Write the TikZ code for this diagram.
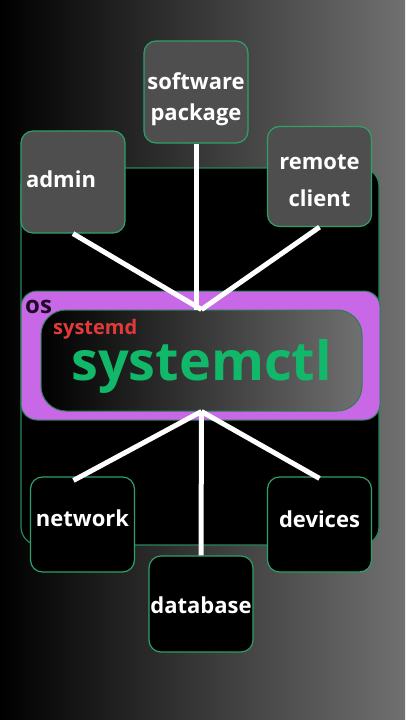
\documentclass[tikz,border=0pt]{standalone}
\usepackage{fontspec}
\setmainfont{Open Sans}
\usepackage{tikz}
\usepackage{xcolor}
\definecolor{edgegreen}{RGB}{46,160,106}
\definecolor{ctlgreen}{RGB}{18,184,106}
\definecolor{sysred}{RGB}{226,58,58}
\definecolor{ospurple}{RGB}{200,104,230}
\definecolor{osink}{RGB}{30,10,40}
\definecolor{boxgrey}{RGB}{78,78,78}
\definecolor{bggrey}{RGB}{112,112,112}
\tikzset{
    leaf-box/.style = {draw=edgegreen, line width=1.2pt, rectangle, rounded corners=12pt, minimum width=104pt, minimum height=100pt, text=white, font=\fontsize{22}{31}\selectfont\bfseries, align=center, inner sep=0pt, text depth=0pt},
    top-box/.style = {leaf-box, fill=boxgrey},
    bottom-box/.style = {leaf-box, fill=black, minimum height=96pt},
    spoke/.style = {white, line width=5pt},
}

\begin{document}
\begin{tikzpicture}[x=1pt, y=-1pt]
\useasboundingbox (0,0) rectangle (405,720);
\shade[left color=black, right color=bggrey] (0,0) rectangle (405,720);
\node [draw=edgegreen!85!black, fill=black, line width=1.2pt, rounded corners=18pt, minimum width=358pt, minimum height=377pt] (sys) at (200,356.5) {};
\node [draw=edgegreen!80!black, fill=ospurple, line width=1pt, rounded corners=16pt, minimum width=359pt, minimum height=129pt] (os) at (200.5,355.5) {};
\node [text=osink, font=\fontsize{24}{24}\selectfont\bfseries, anchor=base west, inner sep=0pt] (oslabel) at (25,313) {os};
\node [draw=edgegreen!80!black, left color=black, right color=bggrey, line width=1pt, rounded corners=25pt, minimum width=321pt, minimum height=101pt, text=ctlgreen, font=\fontsize{54}{54}\selectfont\bfseries, text height=39pt, text depth=0pt] (ctl) at (201.5,360.5) {systemctl};
\node [text=sysred, font=\fontsize{20}{20}\selectfont\bfseries, anchor=base west, inner sep=0pt] (systemd) at (53,334) {systemd};
\node [top-box, minimum height=102pt, text height=56pt] (software) at (196,92) {software\\package};
\node [top-box, minimum height=102pt, text width=94pt, align=left, text height=10pt] (admin) at (73,182) {admin};
\node [top-box, font=\fontsize{22}{37}\selectfont\bfseries, text height=59pt] (remote) at (319.5,176.5) {remote\\client};
\node [bottom-box, minimum height=95pt, text height=3pt] (network) at (82.5,524.5) {network};
\node [bottom-box, minimum height=95pt, text height=5pt] (devices) at (319.5,524.5) {devices};
\node [bottom-box, text height=18pt] (database) at (201,604) {database};
\draw [spoke] (admin.south) -- (ctl.north);
\draw [spoke] (software.south) -- (software.south |- ctl.north);
\draw [spoke] (remote.south) -- (ctl.north);
\draw [spoke] (ctl.south) -- ([xshift=-9pt, yshift=-4pt]network.north);
\draw [spoke] (ctl.south) -- (database.north);
\draw [spoke] (ctl.south) -- ([yshift=-2pt]devices.north);
\end{tikzpicture}
\end{document}
